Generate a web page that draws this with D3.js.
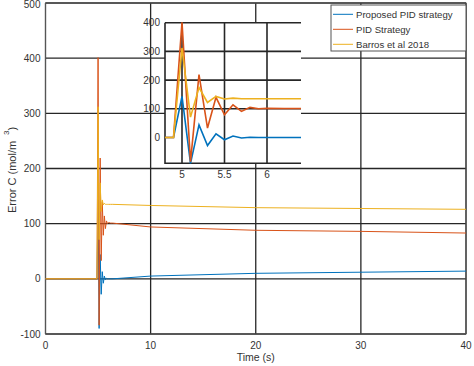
<!DOCTYPE html>
<html>
<head>
<meta charset="utf-8">
<script src="https://cdn.jsdelivr.net/npm/d3@7"></script>
<style>
  body { margin: 0; background: #fff; }
  text { font-family: "Liberation Sans", Arial, sans-serif; fill: #333; }
</style>
</head>
<body>
<svg id="chart" width="474" height="366"></svg>
<script>
// time samples (s)
const times = [0, 4.8, 4.9, 5.0, 5.1, 5.2, 5.3, 5.4, 5.5, 5.6, 5.7, 5.8, 5.9, 6.0, 6.2, 6.4, 10, 20, 30, 40]

// series values
const proposedPID = [0, 0, 0, 143, -90, 44, -28, 13, -8, 5, -2, 1, 0, 0, 0, 0, 5, 10, 12, 14]
const pidStrategy = [0, 0, 0, 401, -84, 219, 33, 140, 79, 114, 91, 105, 100, 102, 101, 101, 94, 88, 86, 83]
const barros2018  = [0, 0, 0, 312, 71, 174, 122, 143, 134, 137, 135, 135, 135, 135, 135, 135, 133, 129, 127.5, 126]

const seriesNames = ['Proposed PID strategy', 'PID Strategy', 'Barros et al 2018']
const seriesColors = ['#0072BD', '#D95319', '#EDB120']

const mainXTicks = [0, 10, 20, 30, 40]
const mainYTicks = [-100, 0, 100, 200, 300, 400, 500]
const insetXTicks = [5, 5.5, 6]
const insetYTicks = [0, 100, 200, 300, 400]

const series = [proposedPID, pidStrategy, barros2018].map((vals, i) => ({
  name: seriesNames[i],
  color: seriesColors[i],
  points: vals.map((v, j) => [times[j], v])
}))

const svg = d3.select('#chart')
const gridColor = '#262626'

// ---- main axes
const x = d3.scaleLinear().domain([0, 40]).range([45.5, 466])
const y = d3.scaleLinear().domain([-100, 500]).range([334, 3])

const main = svg.append('g')

main.append('g')
  .selectAll('line.vgrid')
  .data(mainXTicks)
  .enter().append('line')
  .attr('x1', d => x(d)).attr('x2', d => x(d))
  .attr('y1', y(-100)).attr('y2', y(500))
  .style('stroke', gridColor).style('stroke-width', 1.3)

main.append('g')
  .selectAll('line.hgrid')
  .data(mainYTicks)
  .enter().append('line')
  .attr('x1', x(0)).attr('x2', x(40))
  .attr('y1', d => y(d)).attr('y2', d => y(d))
  .style('stroke', gridColor).style('stroke-width', 1.3)

main.append('rect')
  .attr('x', x(0)).attr('y', y(500))
  .attr('width', x(40) - x(0)).attr('height', y(-100) - y(500))
  .style('fill', 'none').style('stroke', '#555').style('stroke-width', 1)

const line = d3.line().x(d => x(d[0])).y(d => y(d[1]))

main.append('g')
  .selectAll('path')
  .data(series)
  .enter().append('path')
  .attr('d', d => line(d.points))
  .style('fill', 'none')
  .style('stroke', d => d.color)
  .style('stroke-width', 1)

main.append('g')
  .selectAll('text')
  .data(mainXTicks)
  .enter().append('text')
  .attr('x', d => x(d)).attr('y', 349)
  .attr('text-anchor', 'middle')
  .style('font-size', '10px')
  .text(d => d)

main.append('g')
  .selectAll('text')
  .data(mainYTicks)
  .enter().append('text')
  .attr('x', 40.5).attr('y', d => Math.max(y(d) + 3.5, 7.8))
  .attr('text-anchor', 'end')
  .style('font-size', '10px')
  .text(d => d)

main.append('text')
  .attr('x', x(20)).attr('y', 361)
  .attr('text-anchor', 'middle')
  .style('font-size', '10.5px')
  .text('Time (s)')

const yLabel = main.append('text')
  .attr('transform', 'translate(15.5, 213) rotate(-90)')
  .attr('text-anchor', 'start')
  .style('font-size', '11px')
yLabel.append('tspan').text('Error C (mol/m')
yLabel.append('tspan').attr('dx', 6).attr('dy', -7).style('font-size', '8px').text('3')
yLabel.append('tspan').attr('dy', 7).text(')')

// ---- legend
const legend = svg.append('g').attr('transform', 'translate(331, 5)')
legend.append('rect')
  .attr('width', 135).attr('height', 46)
  .style('fill', '#fff').style('stroke', '#555').style('stroke-width', 1)

const entry = legend.selectAll('g.entry')
  .data(series)
  .enter().append('g')
  .attr('transform', (d, i) => `translate(0, ${9.3 + i * 15})`)
entry.append('line')
  .attr('x1', 2).attr('x2', 22)
  .style('stroke', d => d.color).style('stroke-width', 1)
entry.append('text')
  .attr('x', 25).attr('y', 3.5)
  .style('font-size', '9.6px')
  .text(d => d.name)

// ---- inset
const xi = d3.scaleLinear().domain([4.8, 6.4]).range([165, 301])
const yi = d3.scaleLinear().domain([-90, 400]).range([163.3, 22.7])

const inset = svg.append('g')
inset.append('rect')
  .attr('x', xi(4.8)).attr('y', yi(400))
  .attr('width', xi(6.4) - xi(4.8)).attr('height', yi(-90) - yi(400))
  .style('fill', '#fff')

inset.append('g')
  .selectAll('line')
  .data(insetXTicks)
  .enter().append('line')
  .attr('x1', d => xi(d)).attr('x2', d => xi(d))
  .attr('y1', yi(-90)).attr('y2', yi(400))
  .style('stroke', gridColor).style('stroke-width', 1.6)

inset.append('g')
  .selectAll('line')
  .data(insetYTicks.filter(d => d > 0))
  .enter().append('line')
  .attr('x1', xi(4.8)).attr('x2', xi(6.4))
  .attr('y1', d => yi(d)).attr('y2', d => yi(d))
  .style('stroke', gridColor).style('stroke-width', 1.6)

// left + bottom axis lines
inset.append('path')
  .attr('d', `M${xi(4.8)},${yi(400)}V${yi(-90)}H${xi(6.4)}`)
  .style('fill', 'none').style('stroke', gridColor).style('stroke-width', 1.6)

const insetPts = series.map(s => ({
  color: s.color,
  points: s.points.filter(p => p[0] >= 4.8 && p[0] <= 6.4)
}))
const lineI = d3.line().x(d => xi(d[0])).y(d => yi(Math.max(d[1], -92)))

inset.append('g')
  .selectAll('path')
  .data(insetPts)
  .enter().append('path')
  .attr('d', d => lineI(d.points))
  .style('fill', 'none')
  .style('stroke', d => d.color)
  .style('stroke-width', 1.6)

inset.append('g')
  .selectAll('text')
  .data(insetXTicks)
  .enter().append('text')
  .attr('x', d => xi(d)).attr('y', 178)
  .attr('text-anchor', 'middle')
  .style('font-size', '10px')
  .text(d => d)

inset.append('g')
  .selectAll('text')
  .data(insetYTicks)
  .enter().append('text')
  .attr('x', 160).attr('y', d => yi(d) + 3.5)
  .attr('text-anchor', 'end')
  .style('font-size', '10px')
  .text(d => d)
</script>
</body>
</html>
